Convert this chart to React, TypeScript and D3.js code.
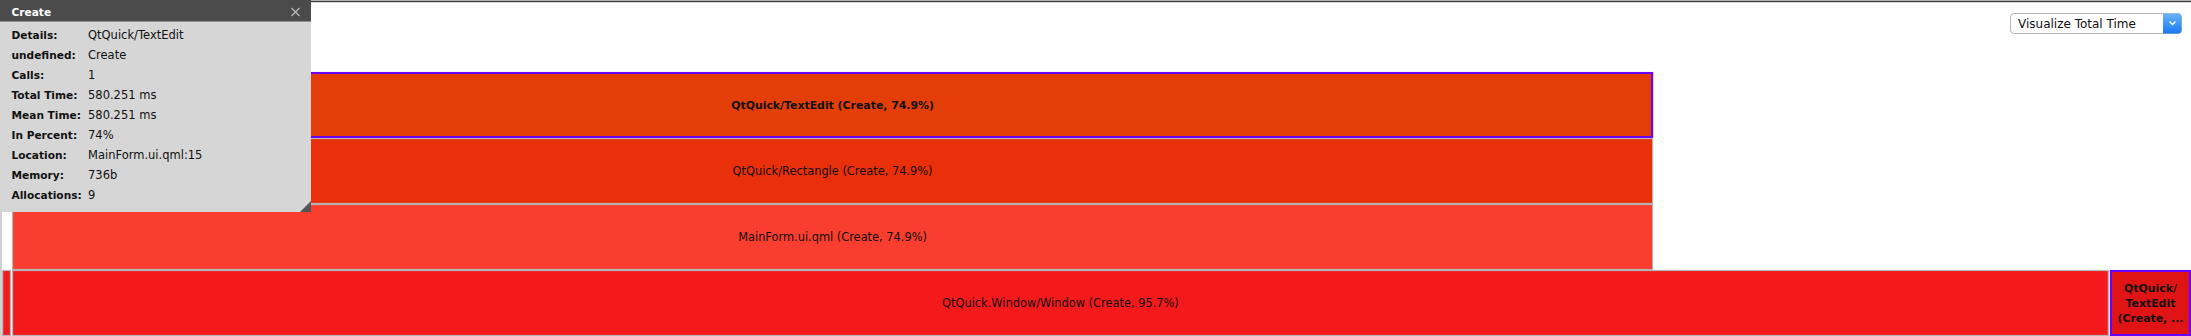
import React from "react";
import * as d3 from "d3";

// ---- data ----
const frameLabels = ["", "QtQuick.Window/Window", "QtQuick/TextEdit", "MainForm.ui.qml", "QtQuick/Rectangle", "QtQuick/TextEdit"];
const frameTypes = ["Create", "Create", "Create", "Create", "Create", "Create"];
const frameDepths = [0, 0, 0, 1, 2, 3];
const frameStarts = [0.1, 0.55, 96.3, 0.55, 0.55, 0.55];
const framePercents = [0.4, 95.7, 3.7, 74.9, 74.9, 74.9];
const frameColors = ["#f41a1c", "#f41a1c", "#e01414", "#f93d2e", "#e9300a", "#e33d08"];
const frameSelected = [false, false, true, false, false, true];

const tooltipTitle = "Create";
const tooltipKeys = ["Details:", "undefined:", "Calls:", "Total Time:", "Mean Time:", "In Percent:", "Location:", "Memory:", "Allocations:"];
const tooltipValues = ["QtQuick/TextEdit", "Create", "1", "580.251 ms", "580.251 ms", "74%", "MainForm.ui.qml:15", "736b", "9"];

const comboText = "Visualize Total Time";

const W = 2191;
const H = 336;
const ROW_H = 66;
const FONT = "'DejaVu Sans', sans-serif";
const FS = 11.4;
const FSB = 10.9;

let ctx: CanvasRenderingContext2D | null = null;
function measure(t: string, bold: boolean) {
  if (!ctx) ctx = document.createElement("canvas").getContext("2d");
  ctx!.font = `${bold ? "bold " : ""}${bold ? FSB : FS}px 'DejaVu Sans'`;
  return ctx!.measureText(t).width;
}

function wrap(text: string, maxW: number, maxLines: number, bold: boolean): string[] {
  if (measure(text, bold) <= maxW) return [text];
  const tokens = text.match(/[^\s/]+\/?|\s+/g)?.filter((t) => t.trim().length) || [];
  const parts: { t: string; sp: boolean }[] = [];
  let idx = 0;
  for (const tk of tokens) {
    const pos = text.indexOf(tk, idx);
    parts.push({ t: tk, sp: pos > 0 && text[pos - 1] === " " });
    idx = pos + tk.length;
  }
  const lines: string[][] = [[]];
  for (const p of parts) {
    const cur = lines[lines.length - 1];
    const cand = cur.length ? cur.join("") + (p.sp ? " " : "") + p.t : p.t;
    if (measure(cand, bold) <= maxW || cur.length === 0) {
      cur.push((cur.length && p.sp ? " " : "") + p.t);
    } else {
      lines.push([p.t]);
    }
  }
  let out = lines.map((l) => l.join(""));
  if (out.length > maxLines) {
    out = out.slice(0, maxLines);
    const last = lines[maxLines - 1].slice();
    while (last.length > 1 && measure(last.join("") + " ...", bold) > maxW) last.pop();
    out[maxLines - 1] = last.join("") + " ...";
  } else {
    const lastIdx = out.length - 1;
    if (measure(out[lastIdx], bold) > maxW && lastIdx === maxLines - 1) {
      const last = lines[lastIdx].slice();
      while (last.length > 1 && measure(last.join("") + " ...", bold) > maxW) last.pop();
      out[lastIdx] = last.join("").trim() + " ...";
    }
  }
  return out;
}

export default function App() {
  const x = d3.scaleLinear().domain([0, 100]).range([0, W]);
  const rowTop = (d: number) => H - (d + 1) * ROW_H;

  const bars = frameLabels.map((name, i) => {
    const x0 = x(frameStarts[i]);
    const w = x(frameStarts[i] + framePercents[i]) - x0;
    const y0 = rowTop(frameDepths[i]);
    const sel = frameSelected[i];
    const label = name ? `${name} (${frameTypes[i]}, ${framePercents[i].toFixed(1)}%)` : "";
    const lines = label && w > 20 ? wrap(label, w - 4, 3, sel) : [];
    const lh = 15;
    const cy = y0 + ROW_H / 2;
    return (
      <g key={i}>
        <rect x={x0 + 0.5} y={y0 + 0.5} width={Math.max(0, w - 1)} height={ROW_H - 1} fill={frameColors[i]} stroke="#b4b4b4" strokeWidth={1.2} />
        {sel && (
          <rect x={x0 + 1} y={y0 + 1} width={Math.max(0, w - 2)} height={ROW_H - 2} fill="none" stroke="#6a00ff" strokeWidth={2} />
        )}
        {lines.map((ln, k) => (
          <text
            key={k}
            x={x0 + w / 2}
            y={cy + (k - (lines.length - 1) / 2) * lh}
            textAnchor="middle"
            dominantBaseline="central"
            fontFamily={FONT}
            fontSize={sel ? FSB : FS}
            fontWeight={sel ? "bold" : "normal"}
            fill="#111"
          >
            {ln}
          </text>
        ))}
      </g>
    );
  });

  return (
    <svg width={W} height={H} style={{ position: "absolute", left: 0, top: 0, display: "block" }} xmlns="http://www.w3.org/2000/svg">
      <defs>
        <linearGradient id="btn" x1="0" y1="0" x2="0" y2="1">
          <stop offset="0" stopColor="#6ab4fb" />
          <stop offset="1" stopColor="#1a78f2" />
        </linearGradient>
      </defs>
      <rect x={0} y={0} width={W} height={H} fill="#fff" />
      <rect x={0} y={0.6} width={W} height={1.6} fill="#3c3c3c" />
      <rect x={0} y={72} width={2} height={H - 72} fill="#d0d0d0" />
      {bars}

      {/* combo box */}
      <rect x={2010.5} y={13.5} width={171} height={20} rx={3.5} fill="#fff" stroke="#b9b9b9" />
      <path d="M2163,13.5 H2178 a3.5,3.5 0 0 1 3.5,3.5 V30 a3.5,3.5 0 0 1 -3.5,3.5 H2163 Z" fill="url(#btn)" />
      <path d="M2169.5,21.5 L2172.5,24.5 L2175.5,21.5" fill="none" stroke="#fff" strokeWidth={1.4} />
      <text x={2018} y={27.5} fontFamily={FONT} fontSize={12} fill="#111">
        {comboText}
      </text>

      {/* tooltip */}
      <g>
        <rect x={0} y={0} width={311} height={212} fill="#d6d6d6" />
        <rect x={0} y={0} width={311} height={21.5} fill="#4b4b4b" />
        <text x={11.5} y={16} fontFamily={FONT} fontSize={10.6} fontWeight="bold" fill="#fff">
          {tooltipTitle}
        </text>
        <path d="M291.5,8 L299.5,16 M299.5,8 L291.5,16" stroke="#b8b8b8" strokeWidth={1.3} />
        {tooltipKeys.map((k, i) => (
          <g key={i}>
            <text x={11.5} y={39 + i * 20} fontFamily={FONT} fontSize={10.6} fontWeight="bold" fill="#111">
              {k}
            </text>
            <text x={88} y={39 + i * 20} fontFamily={FONT} fontSize={11.5} fill="#111">
              {tooltipValues[i]}
            </text>
          </g>
        ))}
        <path d="M300,212 L311,212 L311,201 Z" fill="#555" />
      </g>
    </svg>
  );
}
